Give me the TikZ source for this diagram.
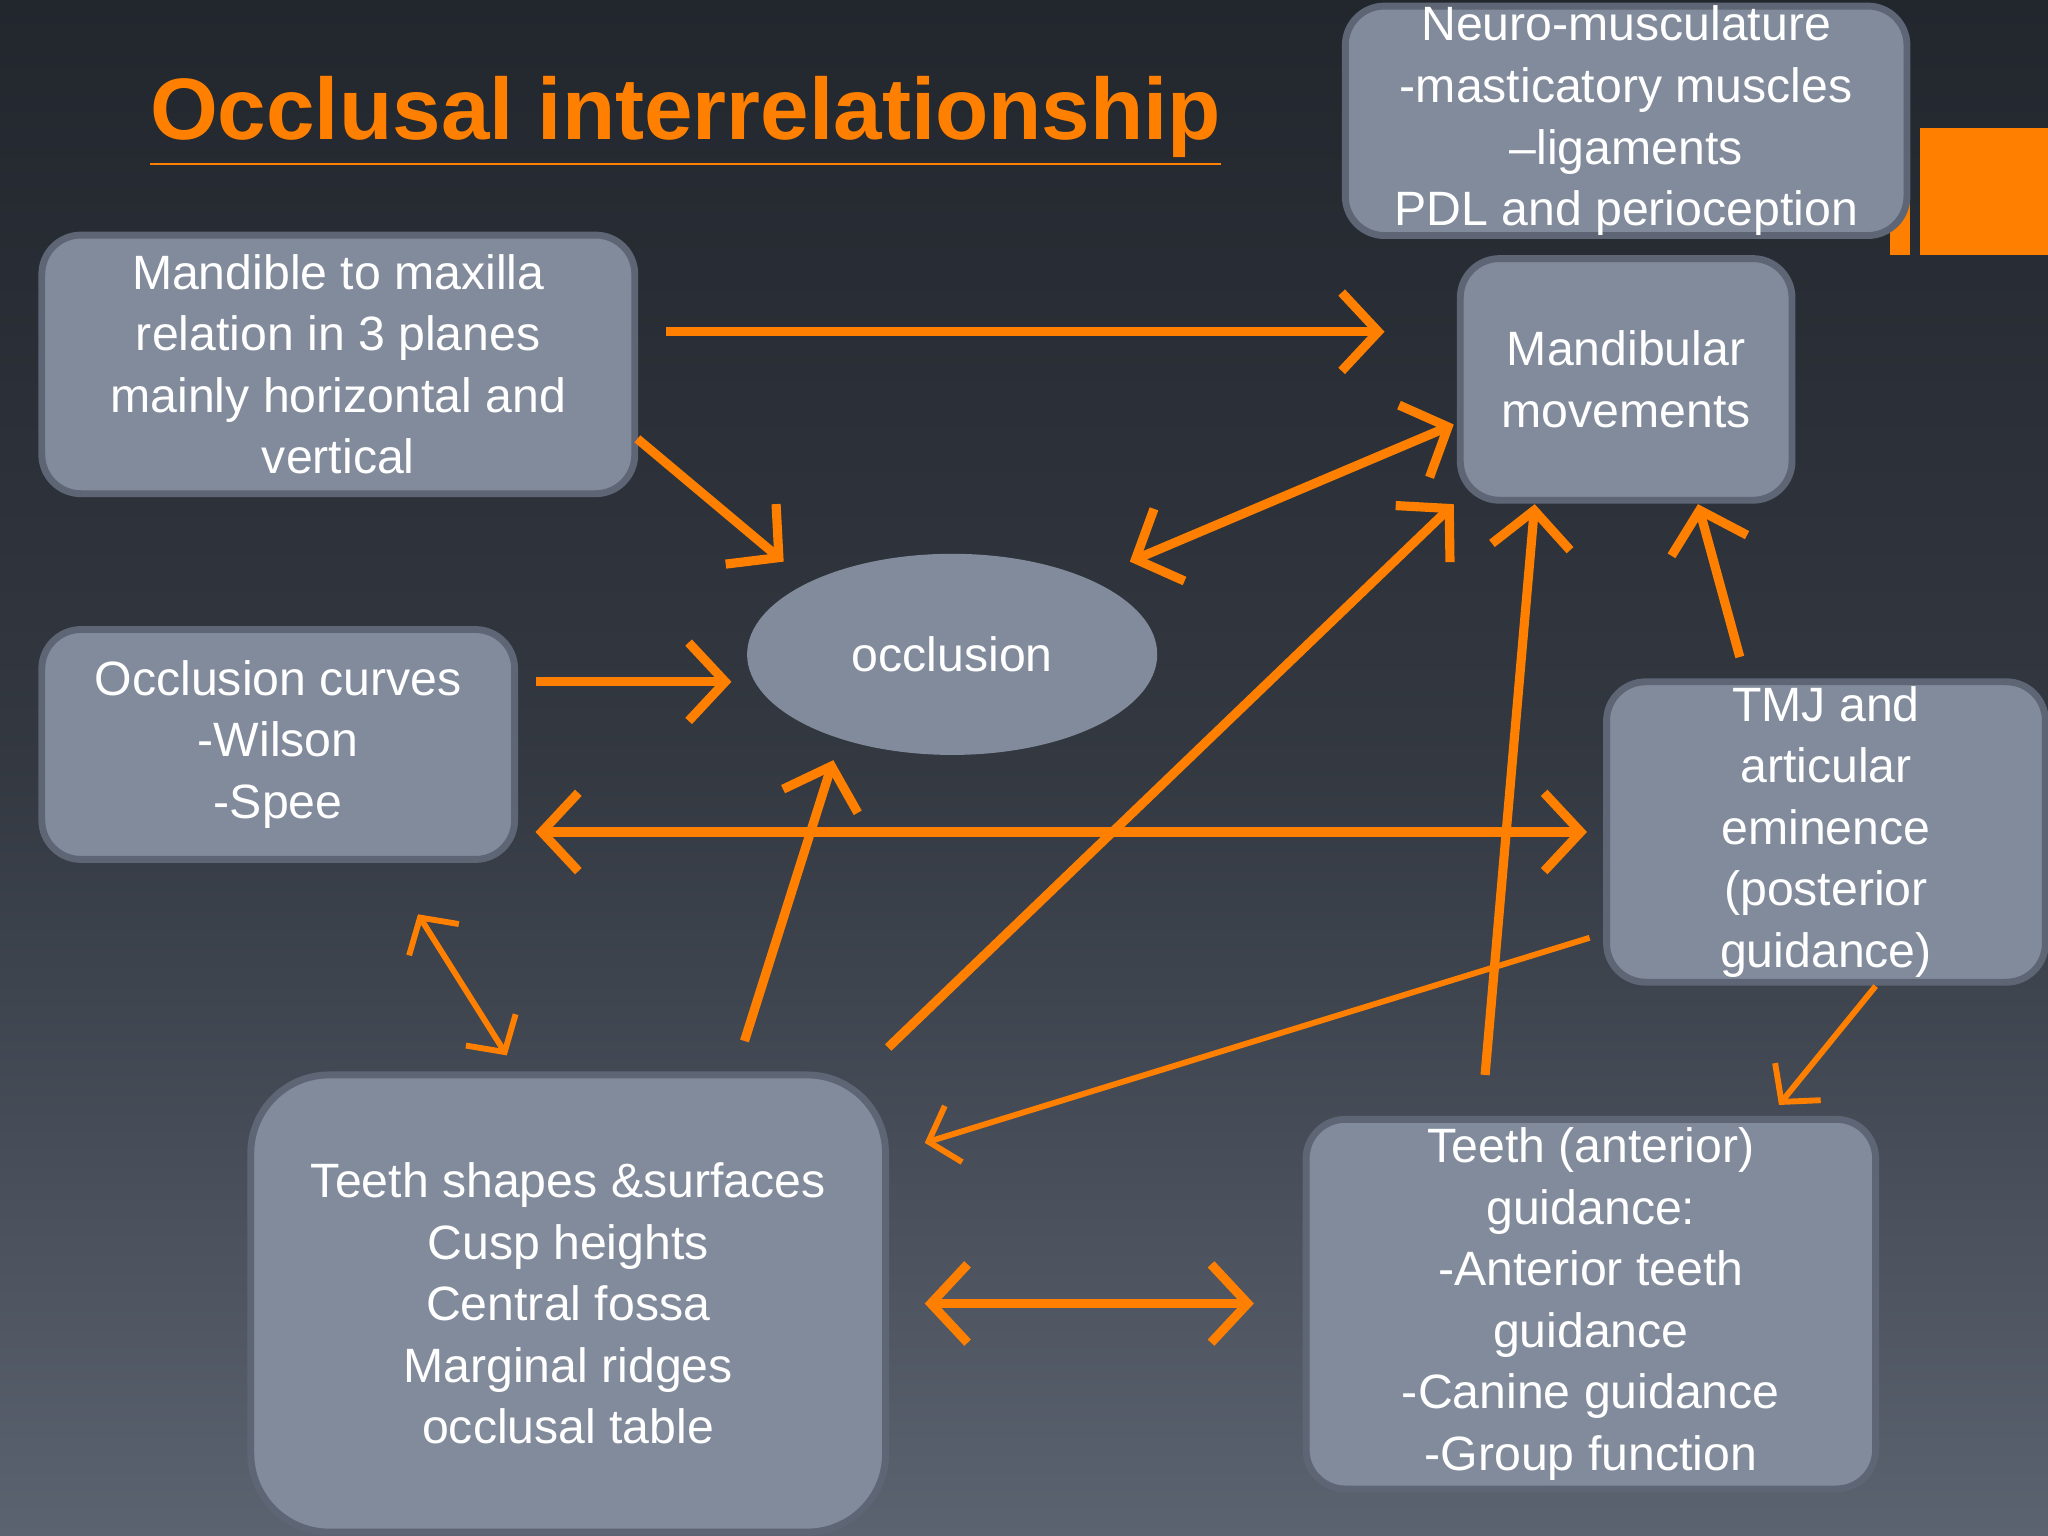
\documentclass[tikz,border=0pt]{standalone}
\usepackage{fontspec}
\setmainfont{Liberation Sans}
\usetikzlibrary{arrows.meta,shapes.geometric}
\definecolor{org}{HTML}{FF8000}
\definecolor{boxf}{HTML}{818B9B}
\definecolor{boxd}{HTML}{5E6676}
\definecolor{bgtop}{HTML}{22262D}
\definecolor{bgbot}{HTML}{5B6370}
\begin{document}
\begin{tikzpicture}[x=1cm,y=-1cm,
  box/.style={draw=boxd,line width=1.5pt,fill=boxf,rounded corners=0.3cm,text=white,align=center,font=\fontsize{10.5}{13.4}\selectfont},
  arr/.style={draw=org,line width=0.07cm,-{Straight Barb[length=0.28cm,width=0.6cm,line width=0.07cm]}},
  darr/.style={arr,{Straight Barb[length=0.28cm,width=0.6cm,line width=0.07cm]}-{Straight Barb[length=0.28cm,width=0.6cm,line width=0.07cm]}},
  thin/.style={draw=org,line width=0.045cm,-{Straight Barb[length=0.2cm,width=0.45cm,line width=0.045cm]}}]
\useasboundingbox (0,0) rectangle (15.68,11.76);
\shade[top color=bgtop,bottom color=bgbot,middle color=bgtop!70!bgbot] (0,0) rectangle (15.68,11.76);
\fill[org] (14.70,0.98) rectangle (15.68,1.95);
\fill[org] (14.47,1.50) rectangle (14.62,1.95);
\node[text=org,font=\fontsize{19}{22}\bfseries\selectfont] (title) at (5.25,0.93) {\underline{Occlusal interrelationship}};
\node[box,minimum width=4.30cm,minimum height=1.75cm,inner sep=0pt] (neuro) at (12.45,0.925) {Neuro-musculature\\-masticatory muscles\\--ligaments\\PDL and perioception};
\node[box,minimum width=4.54cm,minimum height=1.98cm,inner sep=0pt] (mand) at (2.59,2.79) {Mandible to maxilla\\relation in 3 planes\\mainly horizontal and\\vertical};
\node[box,minimum width=2.54cm,minimum height=1.85cm,inner sep=0pt] (mm) at (12.45,2.905) {Mandibular\\movements};
\node[ellipse,fill=boxf,minimum width=3.14cm,minimum height=1.54cm,text=white,font=\fontsize{10.5}{13}\selectfont] (occ) at (7.29,5.01) {occlusion};
\node[box,minimum width=3.62cm,minimum height=1.76cm,inner sep=0pt] (curves) at (2.13,5.70) {Occlusion curves\\-Wilson\\-Spee};
\node[box,minimum width=3.36cm,minimum height=2.30cm,inner sep=0pt] (tmj) at (13.98,6.37) {TMJ and\\articular\\eminence\\(posterior\\guidance)};
\node[box,rounded corners=0.6cm,minimum width=4.86cm,minimum height=3.50cm,inner sep=0pt] (teeth) at (4.35,9.98) {Teeth shapes \&surfaces\\Cusp heights\\Central fossa\\Marginal ridges\\occlusal table};
\node[box,minimum width=4.36cm,minimum height=2.83cm,inner sep=0pt] (ant) at (12.18,9.985) {Teeth (anterior)\\guidance:\\-Anterior teeth\\guidance\\-Canine guidance\\-Group function};
\foreach \n/\x/\y in {a1/5.10/2.54,a2/10.60/2.54,b1/4.88/3.36,b2/6.00/4.30,c1/8.65/4.30,c2/11.13/3.25,d1/4.10/5.22,d2/5.60/5.22,e1/4.10/6.37,e2/12.15/6.37,f1/3.20/7.00,f2/3.88/8.08,g1/5.70/7.97,g2/6.38/5.82,h1/6.80/8.02,h2/11.13/3.86,i1/11.37/8.23,i2/11.75/3.86,j1/13.32/5.03,j2/13.00/3.86,k1/12.17/7.18,k2/7.08/8.75,l1/14.36/7.55,l2/13.62/8.46,m1/7.08/9.98,m2/9.60/9.98}
  \coordinate (\n) at (\x,\y);
\draw[arr] (a1) -- (a2);
\draw[arr] (b1) -- (b2);
\draw[darr] (c1) -- (c2);
\draw[arr] (d1) -- (d2);
\draw[darr] (e1) -- (e2);
\draw[thin,{Straight Barb[length=0.2cm,width=0.45cm,line width=0.045cm]}-{Straight Barb[length=0.2cm,width=0.45cm,line width=0.045cm]}] (f1) -- (f2);
\draw[arr] (g1) -- (g2);
\draw[arr] (h1) -- (h2);
\draw[arr] (i1) -- (i2);
\draw[arr] (j1) -- (j2);
\draw[thin] (k1) -- (k2);
\draw[thin] (l1) -- (l2);
\draw[darr] (m1) -- (m2);
\end{tikzpicture}
\end{document}
